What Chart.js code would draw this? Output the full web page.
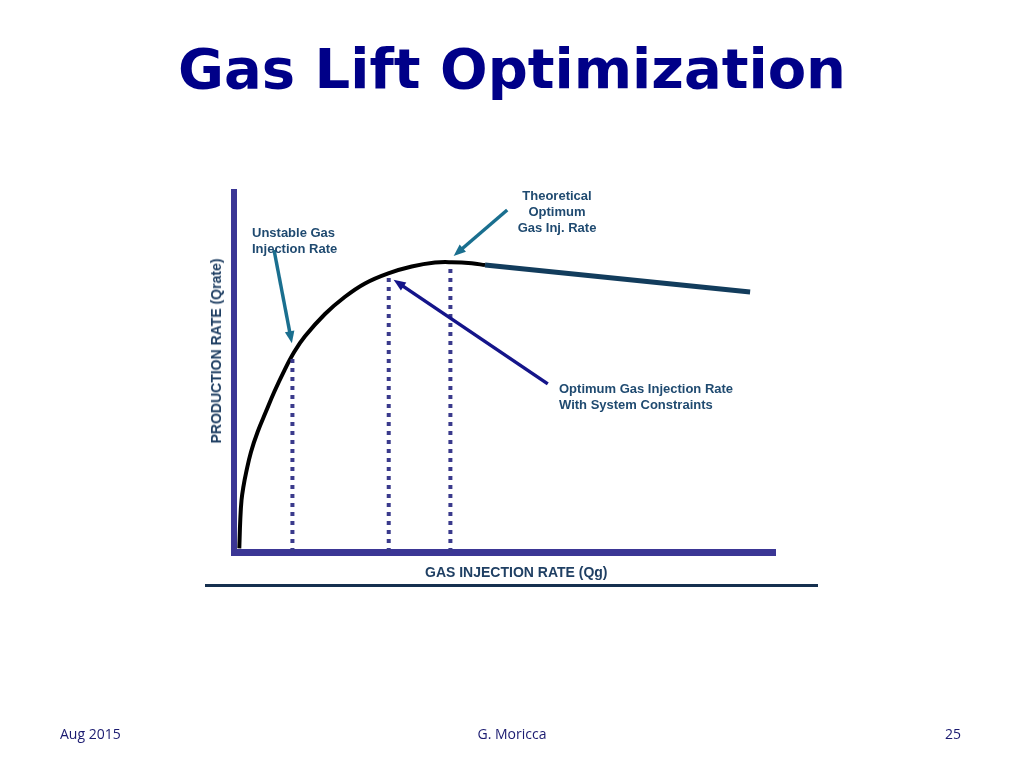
<!DOCTYPE html>
<html>
<head>
<meta charset="utf-8">
<script src="https://cdn.jsdelivr.net/npm/chart.js@4"></script>
<style>
  body { margin: 0; background: #fff; }
  #slide { position: relative; width: 1024px; height: 768px; overflow: hidden; }
  #chart { position: absolute; left: 0; top: 0; }
  .txt { position: absolute; white-space: nowrap; }
  #title { left: 0; width: 1024px; top: 36px; text-align: center; font: bold 56px "DejaVu Sans", Verdana, sans-serif; color: #000088; }
  .note { font: bold 13px "Liberation Sans", Arial, sans-serif; color: #1f4a70; line-height: 16px; }
  .axt { font: bold 14px "Liberation Sans", Arial, sans-serif; color: #1f3f63; }
  .foot { top: 724px; font: 14px "Open Sans", "Liberation Sans", sans-serif; color: #1a1a70; }
  #rule { position: absolute; left: 205px; top: 584px; width: 613px; height: 3px; background: #16304f; }
</style>
</head>
<body>
<div id="slide">
  <div id="title" class="txt">Gas Lift Optimization</div>
  <canvas id="chart" width="1024" height="768"></canvas>
  <div class="txt note" style="left:252px; top:225px;">Unstable Gas<br>Injection Rate</div>
  <div class="txt note" style="left:507px; top:188px; width:100px; text-align:center;">Theoretical<br>Optimum<br>Gas Inj. Rate</div>
  <div class="txt note" style="left:559px; top:381px;">Optimum Gas Injection Rate<br>With System Constraints</div>
  <div class="txt axt" style="left:425px; top:564px;">GAS INJECTION RATE (Qg)</div>
  <div class="txt axt" style="left:216px; top:351px; transform: translate(-50%, -50%) rotate(-90deg);">PRODUCTION RATE (Qrate)</div>
  <div id="rule"></div>
  <div class="txt foot" style="left:60px;">Aug 2015</div>
  <div class="txt foot" style="left:0; width:1024px; text-align:center;">G. Moricca</div>
  <div class="txt foot" style="left:945px;">25</div>
</div>
<script>
/* PERFORMANCE CURVE (rising part) */
const curveX = [0.98, 1.16, 1.39, 1.76, 2.22, 3.14, 4.38, 5.91, 7.45, 9.30, 11.15, 13.12, 16.82, 20.52, 24.21, 28.52, 32.85, 37.15, 40.24, 43.94, 46.4];
const curveY = [1.0, 8.9, 14.4, 18.3, 21.9, 27.8, 33.4, 39.0, 44.5, 50.4, 55.6, 59.9, 66.1, 70.9, 74.6, 77.4, 79.3, 80.4, 80.5, 80.2, 79.7];

/* DECLINING PART AFTER THE OPTIMUM */
const declineX = [46.4, 95.4];
const declineY = [79.7, 72.2];

/* DOTTED MARKERS: unstable, optimum with constraints, theoretical optimum */
const markerX = [10.8, 28.6, 40.0];
const markerY = [54.8, 76.5, 80.0];

/* ARROWS [fromX, fromY, toX, toY] in data units */
const arrowUnstable = [7.4, 83.9, 10.7, 58.0];
const arrowTheory = [50.5, 95.0, 40.6, 82.2];
const arrowConstr = [58.0, 46.7, 29.5, 75.6];

function pts(xs, ys) {
  return xs.map((x, i) => ({ x: x, y: ys[i] }));
}

let datasets = [];
markerX.forEach((x, i) => {
  datasets.push({
    data: [{ x: x, y: 0 }, { x: x, y: markerY[i] }],
    borderColor: '#3a3a8c',
    borderWidth: 4,
    borderDash: [4, 5],
    pointRadius: 0,
    tension: 0
  });
});
datasets.push({
  data: pts(curveX, curveY),
  borderColor: '#000000',
  borderWidth: 4,
  pointRadius: 0,
  tension: 0.4
});
datasets.push({
  data: pts(declineX, declineY),
  borderColor: '#123c5c',
  borderWidth: 5,
  pointRadius: 0,
  tension: 0
});

/* ARROWS DRAWN THROUGH THE SCALES */
function drawArrow(ctx, chart, a, color) {
  const xs = chart.scales.x, ys = chart.scales.y;
  const x1 = xs.getPixelForValue(a[0]), y1 = ys.getPixelForValue(a[1]);
  const x2 = xs.getPixelForValue(a[2]), y2 = ys.getPixelForValue(a[3]);
  const ang = Math.atan2(y2 - y1, x2 - x1);
  const head = 13;
  ctx.save();
  ctx.strokeStyle = color;
  ctx.fillStyle = color;
  ctx.lineWidth = 3.5;
  ctx.beginPath();
  ctx.moveTo(x1, y1);
  ctx.lineTo(x2 - Math.cos(ang) * head * 0.8, y2 - Math.sin(ang) * head * 0.8);
  ctx.stroke();
  ctx.beginPath();
  ctx.moveTo(x2, y2);
  ctx.lineTo(x2 - head * Math.cos(ang - 0.38), y2 - head * Math.sin(ang - 0.38));
  ctx.lineTo(x2 - head * Math.cos(ang + 0.38), y2 - head * Math.sin(ang + 0.38));
  ctx.closePath();
  ctx.fill();
  ctx.restore();
}

const arrowPlugin = {
  id: 'arrows',
  afterDatasetsDraw(chart) {
    const ctx = chart.ctx;
    drawArrow(ctx, chart, arrowUnstable, '#1a6f8f');
    drawArrow(ctx, chart, arrowTheory, '#1a6f8f');
    drawArrow(ctx, chart, arrowConstr, '#14148a');
  }
};

new Chart(document.getElementById('chart'), {
  type: 'line',
  data: { datasets: datasets },
  options: {
    responsive: false,
    animation: false,
    clip: false,
    layout: { padding: { left: 234, right: 249, top: 192, bottom: 216 } },
    plugins: { legend: { display: false }, tooltip: { enabled: false } },
    scales: {
      x: {
        type: 'linear', min: 0, max: 100,
        grid: { display: false, drawTicks: false },
        ticks: { display: false },
        border: { color: '#3b3695', width: 7 }
      },
      y: {
        type: 'linear', min: 0, max: 100,
        grid: { display: false, drawTicks: false },
        ticks: { display: false },
        border: { color: '#3b3695', width: 6 }
      }
    }
  },
  plugins: [arrowPlugin]
});
</script>
</body>
</html>
